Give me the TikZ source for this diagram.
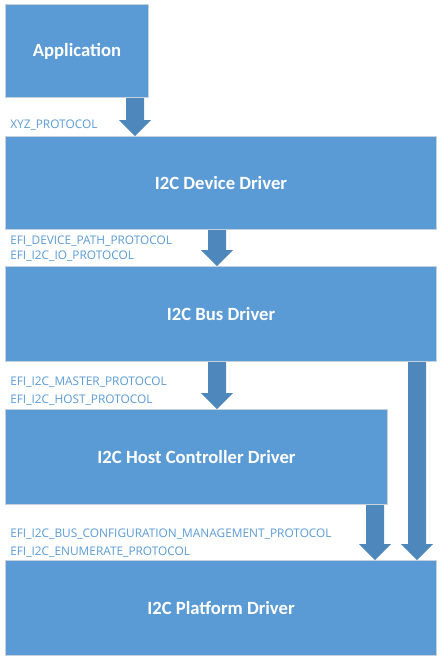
\documentclass[tikz,border=0pt]{standalone}
\usepackage{fontspec}
\setmainfont{Carlito}
\newfontfamily\labelfont{Open Sans}
\usepackage{tikz}
\usetikzlibrary{calc}

\definecolor{boxblue}{HTML}{5B9BD5}
\definecolor{arrowblue}{HTML}{4D87BC}
\definecolor{boxedge}{HTML}{C5D2DE}

% block arrow from the bottom of #2 to the top of #3, at x = #1
\newcommand{\blockarrow}[3]{%
  \coordinate (top) at (#1,0 |- #2.south);
  \coordinate (tip) at (#1,0 |- #3.north);
  \fill[arrowblue] ($(top)+(-9,0)$) -- ($(top)+(9,0)$) -- ($(tip)+(9,-16)$)
    -- ($(tip)+(16,-16)$) -- (tip) -- ($(tip)+(-16,-16)$) -- ($(tip)+(-9,-16)$) -- cycle;
}

\begin{document}
\begin{tikzpicture}[x=0.75pt,y=-0.75pt,
    drvbox/.style={draw=boxedge, line width=0.75pt, fill=boxblue, anchor=north west, inner sep=0pt,
      text=white, font=\bfseries\fontsize{14}{17}\selectfont},
    protolabel/.style={anchor=west, inner sep=0pt, text=boxblue, font=\labelfont\fontsize{8.9}{10}\selectfont}]
        \fill[white] (0,0) rectangle (442,665);
        \useasboundingbox (0,0) rectangle (442,665);

        \node[drvbox, minimum width=143*0.75pt, minimum height=93*0.75pt] (app) at (5,4) {Application};
        \node[drvbox, minimum width=431*0.75pt, minimum height=93*0.75pt] (dev) at (5,136) {I2C Device Driver};
        \node[drvbox, minimum width=431*0.75pt, minimum height=95*0.75pt] (bus) at (5,266) {I2C Bus Driver};
        \node[drvbox, minimum width=382*0.75pt, minimum height=95*0.75pt] (host) at (5,409) {I2C Host Controller Driver};
        \node[drvbox, minimum width=431*0.75pt, minimum height=95*0.75pt] (plat) at (5,560) {I2C Platform Driver};

        \blockarrow{135}{app}{dev}
        \blockarrow{217}{dev}{bus}
        \blockarrow{217}{bus}{host}
        \blockarrow{375}{host}{plat}
        \blockarrow{417}{bus}{plat}

        \node[protolabel] (xyz) at (10,125) {XYZ\_PROTOCOL};
        \node[protolabel] (devpath) at (10,241) {EFI\_DEVICE\_PATH\_PROTOCOL};
        \node[protolabel] (io) at (10,256) {EFI\_I2C\_IO\_PROTOCOL};
        \node[protolabel] (master) at (10,382) {EFI\_I2C\_MASTER\_PROTOCOL};
        \node[protolabel] (hostp) at (10,400) {EFI\_I2C\_HOST\_PROTOCOL};
        \node[protolabel] (busconf) at (10,534) {EFI\_I2C\_BUS\_CONFIGURATION\_MANAGEMENT\_PROTOCOL};
        \node[protolabel] (enum) at (10,552) {EFI\_I2C\_ENUMERATE\_PROTOCOL};
    \end{tikzpicture}
\end{document}
